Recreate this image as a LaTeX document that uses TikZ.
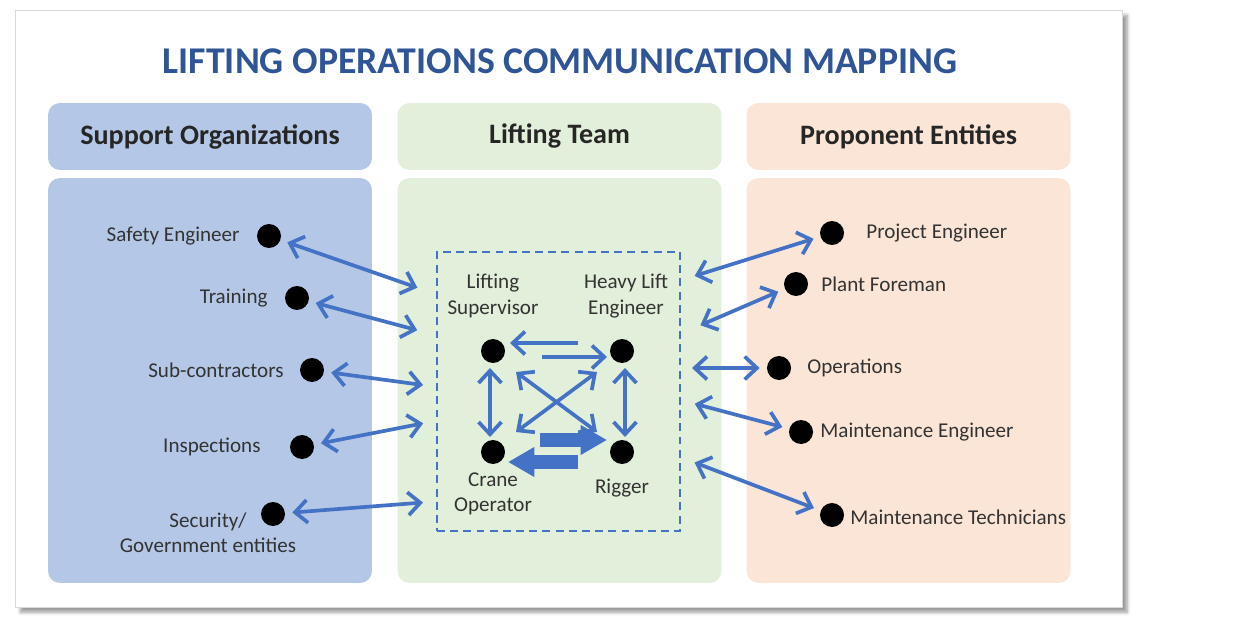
\documentclass[tikz,border=0pt]{standalone}
\usepackage{fontspec}
\setmainfont{Carlito}
\usetikzlibrary{arrows.meta, positioning, shadows.blur}
\definecolor{linkblue}{HTML}{4472C4}
\definecolor{titleblue}{HTML}{2F5597}
\definecolor{supportfill}{HTML}{B4C7E7}
\definecolor{teamfill}{HTML}{E2EFDA}
\definecolor{proponentfill}{HTML}{FBE5D6}
\tikzset{
        frame/.style={draw=gray!30, fill=white, minimum width=22.14cm, minimum height=11.94cm}, % the white card
        header/.style={rounded corners=0.24cm, minimum width=6.48cm, minimum height=1.34cm, font=\fontsize{16}{18}\selectfont\bfseries, text=black!85}, % column titles
        panel/.style={rounded corners=0.24cm, minimum width=6.48cm, minimum height=8.1cm}, % column bodies
        dot/.style={circle, fill=black, minimum size=0.48cm, inner sep=0pt}, % one person or party
        lbl/.style={font=\fontsize{12}{14.5}\selectfont, text=black!80, inner sep=1pt, align=center}, % its name
        link/.style={<->, >={Straight Barb[length=7pt, width=13pt]}, linkblue, line width=2.1pt, shorten <=0.14cm, shorten >=0.14cm}, % two way talk
        oneway/.style={->, >={Straight Barb[length=7pt, width=13pt]}, linkblue, line width=2.1pt}, % one way talk
        block/.style={-{Triangle[length=15pt, width=16pt]}, linkblue, line width=8pt}, % the wide arrows
    }
\begin{document}
\begin{tikzpicture}[x=0.02cm, y=-0.02cm]
    \useasboundingbox (0,0) rectangle (1260,628);
    \node[frame, blur shadow={shadow xshift=3pt, shadow yshift=-3pt, shadow blur steps=6}] (card) at (568.5,308.5) {};
    \node[font=\fontsize{21.5}{25}\selectfont\bfseries, text=titleblue] (title) at (560,61) {LIFTING OPERATIONS COMMUNICATION MAPPING};

    % the three columns
    \node[header, fill=supportfill] (supporthead) at (210,136.5) {\raisebox{-2pt}{Support Organizations}};
    \node[header, fill=teamfill] (teamhead) at (559.5,136.5) {\raisebox{-2pt}{Lifting Team}};
    \node[header, fill=proponentfill] (proponenthead) at (908.5,136.5) {\raisebox{-2pt}{Proponent Entities}};
    \node[panel, fill=supportfill] (support) at (210,380.5) {};
    \node[panel, fill=teamfill] (team) at (559.5,380.5) {};
    \node[panel, fill=proponentfill] (proponent) at (908.5,380.5) {};
    \node[draw=linkblue, dash pattern=on 4.5pt off 3pt, line width=1.4pt, minimum width=4.86cm, minimum height=5.58cm] (teambox) at (558.5,391.5) {};

    % lifting team
    \node[dot] (ls) at (493,351) {};
    \node[dot] (hle) at (622,351) {};
    \node[dot] (co) at (493,452) {};
    \node[dot] (rg) at (622,452) {};
    \node[lbl, above of=ls, node distance=1.1cm] (lslbl) {Lifting\\Supervisor};
    \node[lbl, above of=hle, node distance=1.1cm, xshift=0.08cm] (hlelbl) {Heavy Lift\\Engineer};
    \node[lbl, below of=co, node distance=0.84cm] (colbl) {Crane\\Operator};
    \node[lbl, below of=rg, node distance=0.72cm] (rglbl) {Rigger};
    \draw[oneway] ([shift={(-44,-8)}]hle.center) -- ([shift={(17,-8)}]ls.center);
    \draw[oneway] ([shift={(49,6)}]ls.center) -- ([shift={(-15,6)}]hle.center);
    \draw[link, shorten <=0pt, shorten >=0pt] ([shift={(-3,17)}]ls.center) -- ([shift={(-3,-15)}]co.center);
    \draw[link, shorten <=0pt, shorten >=0pt] ([shift={(3,17)}]hle.center) -- ([shift={(3,-15)}]rg.center);
    \draw[link, shorten <=0pt, shorten >=0pt] ([shift={(23,21)}]ls.center) -- ([shift={(-25,-20)}]rg.center);
    \draw[link, shorten <=0pt, shorten >=0pt] ([shift={(-25,21)}]hle.center) -- ([shift={(23,-20)}]co.center);
    \draw[block] ([shift={(47,-12)}]co.center) -- ([shift={(-15,-12)}]rg.center);
    \draw[block] ([shift={(-44,10)}]rg.center) -- ([shift={(15,10)}]co.center);

    % support organizations
    \node[dot] (safety) at (269,236) {};
    \node[dot] (training) at (297,298) {};
    \node[dot] (subs) at (312,370) {};
    \node[dot] (inspect) at (302,447) {};
    \node[dot] (security) at (273,514) {};
    \node[lbl, left=0.3cm of safety] (safetylbl) {Safety Engineer};
    \node[lbl, left=0.3cm of training] (traininglbl) {Training};
    \node[lbl, left=0.28cm of subs] (subslbl) {Sub-contractors};
    \node[lbl, left=0.54cm of inspect] (inspectlbl) {Inspections};
    \node[lbl] (securitylbl) at (208,533) {Security/\\Government entities};
    \coordinate (inA) at (424,290);
    \coordinate (inB) at (424,332);
    \coordinate (inC) at (430,386);
    \coordinate (inD) at (430,422);
    \coordinate (inE) at (430,502);
    \draw[link] (safety) -- (inA);
    \draw[link] (training) -- (inB);
    \draw[link] (subs) -- (inC);
    \draw[link] (inspect) -- (inD);
    \draw[link] (security) -- (inE);

    % proponent entities
    \node[dot] (project) at (832,233) {};
    \node[dot] (foreman) at (796,284) {};
    \node[dot] (ops) at (779,368) {};
    \node[dot] (mainteng) at (801,432) {};
    \node[dot] (mainttech) at (832,515) {};
    \node[lbl, right=0.4cm of project] (projectlbl) {Project Engineer};
    \node[lbl, right=0.22cm of foreman] (foremanlbl) {Plant Foreman};
    \node[lbl, right=0.28cm of ops] (opslbl) {Operations};
    \node[lbl, right=0.1cm of mainteng] (maintenglbl) {Maintenance Engineer};
    \node[lbl, right=0.08cm of mainttech, yshift=-0.04cm] (mainttechlbl) {Maintenance Technicians};
    \coordinate (outA) at (688,278);
    \coordinate (outB) at (694,328);
    \coordinate (outC) at (685,368);
    \coordinate (outD) at (688,402);
    \coordinate (outE) at (688,460);
    \draw[link] (outA) -- (project);
    \draw[link] (outB) -- (foreman);
    \draw[link] (outC) -- (ops);
    \draw[link] (outD) -- (mainteng);
    \draw[link] (outE) -- (mainttech);
\end{tikzpicture}
\end{document}
